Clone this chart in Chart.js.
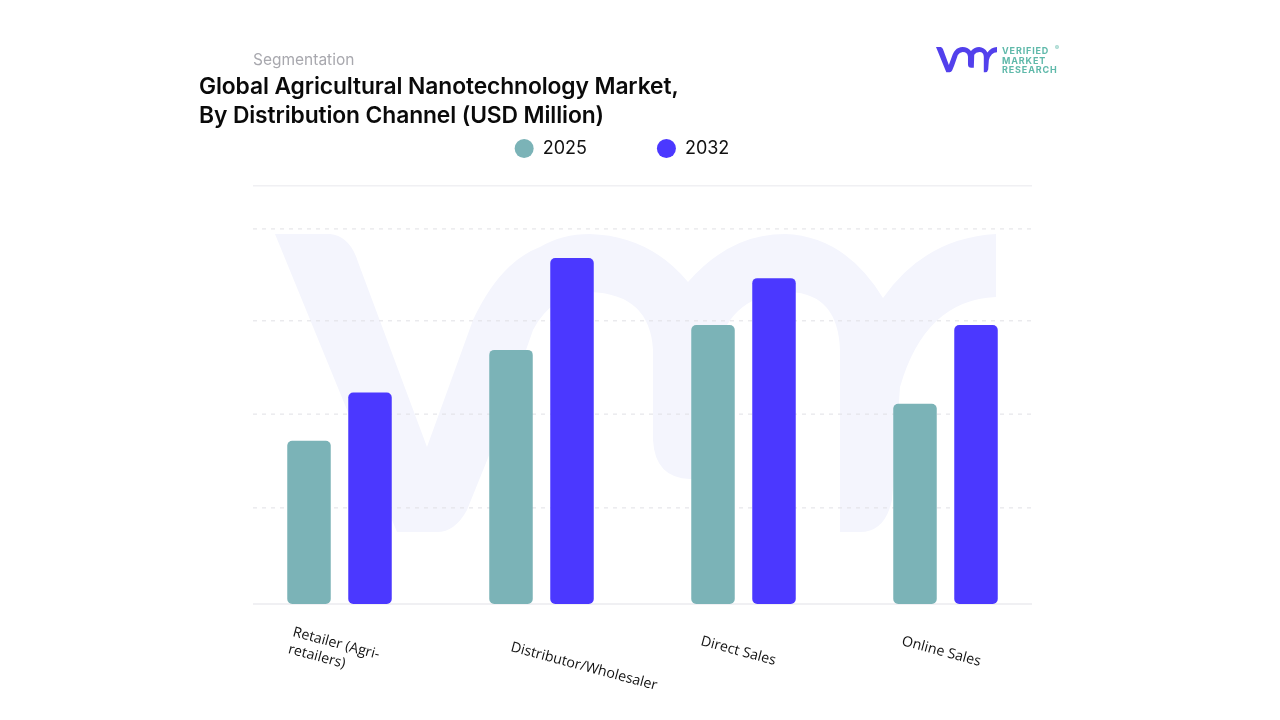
<!DOCTYPE html>
<html><head><meta charset="utf-8">
<script src="https://cdn.jsdelivr.net/npm/chart.js@4/dist/chart.umd.min.js"></script>
<style>
html,body{margin:0;padding:0;background:#fff;width:1280px;height:720px;overflow:hidden}
#wrap{position:relative;width:1280px;height:720px;font-family:Inter,sans-serif}
#wrap svg.wm{position:absolute;left:0;top:0}
canvas{position:absolute;left:0;top:0}
.t{position:absolute;white-space:nowrap}
#seg{left:253px;top:50px;font-size:15.5px;line-height:20px;color:#a8a8ae}
#title{left:199px;top:71px;font-size:22.8px;line-height:29px;font-weight:600;color:#0a0a0a;letter-spacing:-.1px}
.lg{left:1002px;font-size:9px;line-height:9px;font-weight:700;color:#5fb9aa;letter-spacing:.85px}
</style></head><body>
<div id="wrap">
<svg class="wm" width="1280" height="720" viewBox="0 0 1280 720">
<defs><path id="vmr" d="M275 234 L330 234 Q350 236 358 262 L427 447 L473 320 Q500 262 540 247 Q562 234 590 234 Q650 236 688 282 Q730 234 785 234 Q845 236 883 298 Q925 238 996 234 L996 297 Q925 300 900 387 L892 500 Q885 532 860 532 L840 532 L840 350 Q838 294 790 292 Q745 294 727 325 L722 479 L690 479 Q655 478 653 440 L653 350 Q650 294 590 292 Q552 294 533 330 L490 453 L467 510 Q455 532 437 532 L397 532 Z"/></defs>
<use href="#vmr" fill="#f4f5fd"/>
<g transform="translate(936 47) scale(0.0846) translate(-275 -234)"><use href="#vmr" fill="#5240ec"/></g>
</svg>
<canvas id="c" width="1280" height="720"></canvas>
<div class="t" id="seg">Segmentation</div>
<div class="t" id="title">Global Agricultural Nanotechnology Market,<br>By Distribution Channel (USD Million)</div>
<div class="t lg" style="top:46px">VERIFIED</div>
<div class="t lg" style="top:55.5px">MARKET</div>
<div class="t lg" style="top:64.5px">RESEARCH</div>
<div class="t" style="left:1055px;top:44px;font-size:6px;color:#5fb9aa">®</div>
</div>
<script>
const categories = [['Retailer (Agri-','retailers)'],['Distributor/Wholesaler'],['Direct Sales'],['Online Sales']];
const seriesNames = ['2025','2032'];
const values2025 = [34.8,54.2,59.5,42.7];
const values2032 = [45.1,73.8,69.5,59.5];
const gridValues = [0,20.5,40.5,60.4,80,89.2];

const gridPlugin = {
  id:'vmrGrid',
  beforeDatasetsDraw(chart){
    const {ctx,scales:{y}}=chart;
    ctx.save();
    gridValues.forEach(v=>{
      const py=y.getPixelForValue(v);
      const solid=v===gridValues[0]||v===gridValues[gridValues.length-1];
      ctx.beginPath();
      ctx.setLineDash(solid?[]:[4,5]);
      ctx.strokeStyle=solid?'#f0f0f3':'#e0e0e5';
      ctx.lineWidth=solid?(v===0?2:1.5):1;
      ctx.moveTo(253,py);ctx.lineTo(1032,py);ctx.stroke();
    });
    ctx.restore();
  }
};
const labelStarts=[[-47.5,32],[-31.5,47],[-43.5,41],[-44.5,41]];
const labelPlugin = {
  id:'slantLabels',
  afterDraw(chart){
    const {ctx,scales:{x,y}}=chart;
    const base=y.getPixelForValue(0);
    ctx.save();
    ctx.font='14.2px "Open Sans"';ctx.fillStyle='#111';ctx.textAlign='left';ctx.textBaseline='alphabetic';
    categories.forEach((lines,i)=>{
      ctx.save();
      ctx.translate(x.getPixelForValue(i)+labelStarts[i][0],base+labelStarts[i][1]);
      ctx.rotate(15*Math.PI/180);
      lines.forEach((s,j)=>ctx.fillText(s,0,j*17.5));
      ctx.restore();
    });
    ctx.restore();
  }
};
new Chart(document.getElementById('c'),{
  type:'bar',
  data:{labels:categories.map(l=>l.join(' ')),datasets:[
    {label:seriesNames[0],data:values2025,backgroundColor:'#7bb3b7'},
    {label:seriesNames[1],data:values2032,backgroundColor:'#4b38ff'}
  ]},
  plugins:[gridPlugin,labelPlugin],
  options:{
    responsive:false,animation:false,
    layout:{padding:{left:197.5,right:233.5,top:69.5,bottom:116}},
    datasets:{bar:{categoryPercentage:0.604,barPercentage:0.713,borderRadius:5,borderSkipped:false}},
    scales:{
      x:{grid:{display:false},border:{display:false},ticks:{display:false},afterFit(s){s.height=0;}},
      y:{min:0,max:93.1,grid:{display:false},border:{display:false},ticks:{display:false},
         afterFit(s){s.width=41;}}
    },
    plugins:{
      tooltip:{enabled:false},
      legend:{position:'top',align:'center',
        labels:{usePointStyle:true,pointStyle:'circle',boxHeight:13.5,pointStyleWidth:19,padding:70,color:'#111',font:{family:'Inter',size:18}}}
    }
  }
});
</script>
</body></html>
